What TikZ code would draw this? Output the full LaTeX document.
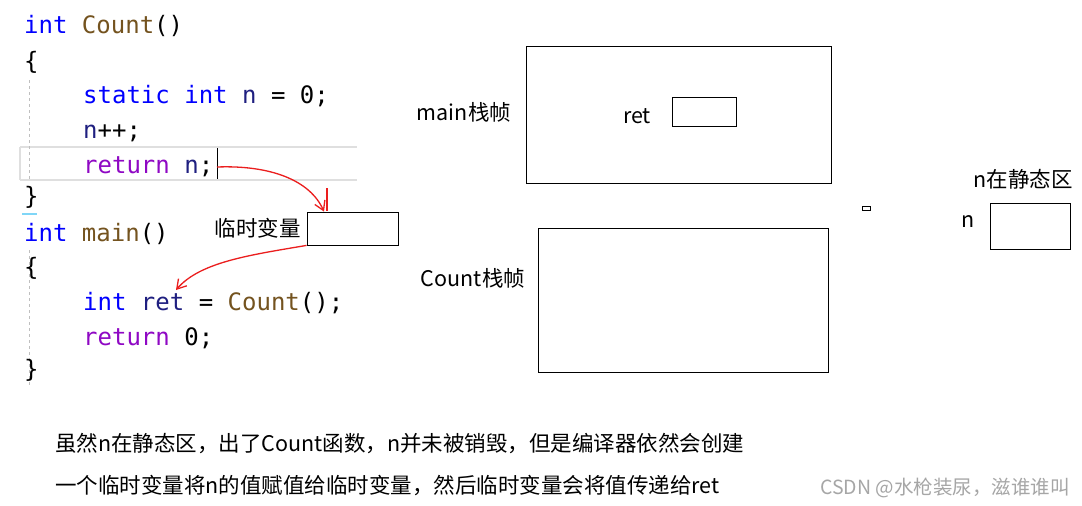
\documentclass[tikz,border=0pt]{standalone}
\usepackage{fontspec}
\setmainfont{Noto Sans CJK SC}
\newfontfamily\codefont{DejaVu Sans Mono}
\usetikzlibrary{arrows.meta}
\definecolor{kw}{RGB}{0,0,255}
\definecolor{fn}{RGB}{116,83,31}
\definecolor{rt}{RGB}{143,8,196}
\definecolor{vr}{RGB}{31,31,128}
\definecolor{redline}{RGB}{235,30,30}
\begin{document}
\begin{tikzpicture}[x=1pt,y=-1pt,
  code/.style={anchor=base west,inner sep=0pt,font=\codefont\fontsize{24}{24}\selectfont},
  lbl/.style={inner sep=0pt,font=\fontsize{21.5}{22}\selectfont},
  box/.style={draw,line width=0.8pt},
  redarrow/.style={draw=redline,line width=1.3pt,-{Straight Barb[length=9pt,width=11pt]}}]
\useasboundingbox (0,0) rectangle (1082,506);
\fill[white] (0,0) rectangle (1082,506);
% editor decorations
\draw[gray!25,line width=1.5pt] (20,147) -- (357,147) (20,180) -- (357,180) (20,147) -- (20,180);
\draw[gray!50,dashed] (29,80) -- (29,180) (29,250) -- (29,385);
\draw[cyan!50,line width=2pt] (22,214) -- (37,214);
\draw[line width=1pt] (217,148) -- (217,179);
% code
\node[code] (l1) at (24,34) {\textcolor{kw}{int} \textcolor{fn}{Count}()};
\node[code] (l2) at (24,69) {\{};
\node[code] (l3) at (83,103) {\textcolor{kw}{static} \textcolor{kw}{int} \textcolor{vr}{n} = 0;};
\node[code] (l4) at (83,138) {\textcolor{vr}{n}++;};
\node[code] (l5) at (83,173) {\textcolor{rt}{return} \textcolor{vr}{n};};
\node[code] (l6) at (24,204) {\}};
\node[code] (l7) at (24,241) {\textcolor{kw}{int} \textcolor{fn}{main}()};
\node[code] (l8) at (24,275) {\{};
\node[code] (l9) at (83,310) {\textcolor{kw}{int} \textcolor{vr}{ret} = \textcolor{fn}{Count}();};
\node[code] (l10) at (83,345) {\textcolor{rt}{return} 0;};
\node[code] (l11) at (24,377) {\}};
% boxes
\node[box,minimum width=91pt,minimum height=33pt] (tmp) at (352.5,228.5) {};
\node[lbl,anchor=east] (tmpl) at (301,228) {临时变量};
\node[box,minimum width=305pt,minimum height=137pt] (mainf) at (678.5,114.5) {};
\node[lbl] (mainl) at (464,112) {main栈帧};
\node[box,minimum width=64pt,minimum height=29pt] (retb) at (704,111.5) {};
\node[lbl] (retl) at (637,116) {ret};
\node[box,minimum width=290pt,minimum height=144pt] (countf) at (683,300) {};
\node[lbl] (countl) at (473,278) {Count栈帧};
\node[box,line width=0.6pt,minimum width=8pt,minimum height=4pt,inner sep=0pt] (tiny) at (866,208) {};
\node[box,minimum width=80pt,minimum height=46pt] (nb) at (1030,226) {};
\node[lbl] (nsl) at (1023,179) {n在静态区};
\node[lbl] (nl) at (968,222) {n};
% arrows
\coordinate (a0) at (217,167);
\draw[redarrow] (a0) .. controls (270,165) and (310,180) .. (tmp.north west -| 324,212);
\draw[redline,line width=1.3pt] (327,188) -- (327,211);
\draw[redarrow] (tmp.south west) .. controls (250,255) and (200,262) .. (176,290);
% bottom text
\node[lbl,anchor=west] (t1) at (55,444) {虽然n在静态区，出了Count函数，n并未被销毁，但是编译器依然会创建};
\node[lbl,anchor=west] (t2) at (55,486) {一个临时变量将n的值赋值给临时变量，然后临时变量会将值传递给ret};
\node[lbl,anchor=east,text=gray!70,font=\fontsize{19.5}{20}\selectfont] (wm) at (1070,488) {CSDN @水枪装尿，滋谁谁叫};
\end{tikzpicture}
\end{document}
